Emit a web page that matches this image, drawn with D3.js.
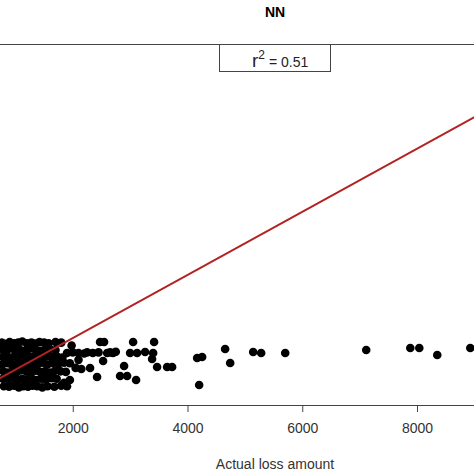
<!DOCTYPE html>
<html><head><meta charset="utf-8">
<script src="https://cdn.jsdelivr.net/npm/d3@7"></script>
<style>body{margin:0;background:#fff}</style></head>
<body><svg id="c" width="474" height="474"></svg>
<script>
// actual loss amount vs NN prediction
const actual = [
  760,820,900,980,1050,1120,1200,1280,1350,1420,1500,1580,
  760,840,910,990,1060,1130,1210,1290,1360,1440,1520,1600,1700,
  780,850,930,1000,1080,1150,1230,1310,1380,1460,1540,1620,1720,1820,
  770,860,940,1020,1090,1170,1250,1330,1400,1480,1560,1650,1750,1850,1950,
  790,870,950,1030,1110,1190,1270,1350,1430,1510,1600,1690,1790,1880,
  780,880,960,1040,1120,1200,1280,1360,1450,1530,1630,1720,
  800,890,980,1060,1140,1220,1300,1380,1470,1560,1680,1800,1900,
  1900,2000,2100,2200,2050,2150,1950,1850,2250,2350,2450,2600,2700,2750,2650,
  1700,1800,1650,2100,1980,1100,1250,1400,1550,
  2476,2546,3052,3418,3000,3122,3261,3401,3383,3470,3645,3732,2895,2825,2947,3104,
  2424,2302,2529,4168,4255,4203,4656,4744,5145,5284,5703,7115,7883,8040,8353,8929
]
const predicted = [
  1000,980,1010,990,1000,1020,990,1000,985,1010,1000,990,
  880,860,900,870,890,860,880,900,870,860,880,890,870,
  750,760,740,770,750,740,760,750,770,740,760,750,760,740,
  620,640,610,630,650,620,640,610,630,650,620,640,630,650,640,
  500,480,510,490,520,500,480,510,490,500,480,510,500,490,
  370,360,380,350,370,360,380,350,370,360,380,370,
  240,230,250,220,240,230,250,240,220,240,230,250,240,
  820,830,820,810,560,540,350,300,830,820,830,820,820,840,830,
  1010,1000,400,700,950,600,560,700,420,
  1011,1011,1011,1011,820,820,837,820,715,576,576,576,593,419,419,349,
  401,558,680,732,750,262,889,645,837,820,820,872,907,907,785,907
]
const xTicks = [2000, 4000, 6000, 8000]
const fitIntercept = -20, fitSlope = 0.55

const svg = d3.select('#c')
const x = d3.scaleLinear().domain([0, 8000]).range([-42, 417])
const y = d3.scaleLinear().domain([0, 1000]).range([400, 342.65])

svg.append('line').attr('x1', 0).attr('x2', 474).attr('y1', 44.5).attr('y2', 44.5).attr('stroke', '#444')

svg.append('g').selectAll('circle').data(actual).join('circle')
  .attr('cx', d => x(d)).attr('cy', (d, i) => y(predicted[i])).attr('r', 4.3).attr('fill', '#000')

const xs = [0, 9200]
svg.append('line')
  .attr('x1', x(xs[0])).attr('y1', y(fitIntercept + fitSlope * xs[0]))
  .attr('x2', x(xs[1])).attr('y2', y(fitIntercept + fitSlope * xs[1]))
  .attr('stroke', '#b22222').attr('stroke-width', 2)

const ax = svg.append('g').attr('transform', 'translate(0,405)')
  .call(d3.axisBottom(x).tickValues(xTicks).tickSize(7).tickFormat(d3.format('d')))
ax.select('.domain').attr('d', 'M0,0.5H474').attr('stroke', '#444')
ax.selectAll('.tick line').attr('stroke', '#444')
ax.selectAll('text').attr('font-family', 'Liberation Sans, Arial').attr('font-size', 14).attr('fill', '#333').attr('dy', '1.3em')

svg.append('text').attr('x', 275).attr('y', 469).attr('text-anchor', 'middle')
  .attr('font-family', 'Liberation Sans, Arial').attr('font-size', 14).attr('fill', '#333').text('Actual loss amount')
svg.append('text').attr('x', 275).attr('y', 17).attr('text-anchor', 'middle')
  .attr('font-family', 'Liberation Sans, Arial').attr('font-size', 14).attr('font-weight', 'bold').text('NN')

svg.append('rect').attr('x', 219.5).attr('y', 44.5).attr('width', 111).attr('height', 27)
  .attr('fill', '#fff').attr('stroke', '#444')
const t = svg.append('text').attr('x', 252).attr('y', 67).attr('font-family', 'Liberation Sans, Arial').attr('fill', '#222')
t.append('tspan').attr('font-size', 19).text('r')
t.append('tspan').attr('font-size', 12).attr('dy', -8).text('2')
t.append('tspan').attr('font-size', 14).attr('dy', 8).text(' = 0.51')
</script></body></html>
